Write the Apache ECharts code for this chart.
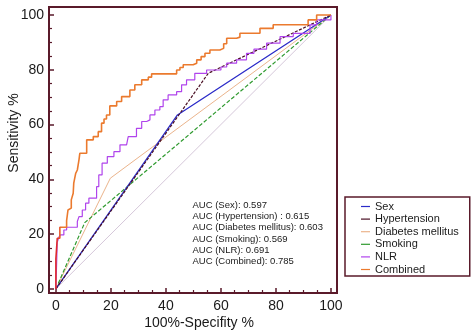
<!DOCTYPE html>
<html>
<head>
<meta charset="utf-8">
<script src="https://cdn.jsdelivr.net/npm/echarts@6/dist/echarts.min.js"></script>
<style>
html,body{margin:0;padding:0;background:#fff;}
#chart{width:474px;height:332px;}
</style>
</head>
<body>
<div id="chart"></div>
<script>
// ---- data ----
var majorTicks = [0, 20, 40, 60, 80, 100];
var minorTicks = [5,10,15,25,30,35,45,50,55,65,70,75,85,90,95];
var legendNames = ['Sex', 'Hypertension', 'Diabetes mellitus', 'Smoking', 'NLR', 'Combined'];
var aucLabels = [
  'AUC (Sex): 0.597',
  'AUC (Hypertension) : 0.615',
  'AUC (Diabetes mellitus): 0.603',
  'AUC (Smoking): 0.569',
  'AUC (NLR): 0.691',
  'AUC (Combined): 0.785'
];
var refLine = [[0,0],[100,100]];
var sexRoc = [[0,0],[44.2,63.5],[100,100]];
var hyperRoc = [[0,0],[55.4,78.7],[100,100]];
var diabRoc = [[0,0],[19.8,40.4],[100,100]];
var smokeRoc = [[0,0],[10.5,24.2],[100,100]];
var nlrRoc = [[0,0],[0.5,17],[1.1,18.9],[1.7,19.7],[2.9,21.5],[3.9,22.5],[7.8,24.6],[8.4,26.4],[9.6,28.8],
  [10.8,31.3],[12,33.1],[14.8,37.3],[15.6,41.6],[16.8,45.9],[18.7,48.3],[21.1,50.1],[23.3,52.6],[25.7,53.2],
  [26.3,55.6],[29.3,58.6],[31.2,61.1],[33,61.7],[34.2,63.5],[36,65.3],[37.8,66.5],[39,69],[40.8,70.8],
  [43.9,72],[45.7,74.5],[47.5,76.3],[50.5,78.7],[54.8,79.9],[60,81],[62.1,82.4],[65.7,83.6],[69.3,86],
  [72,87.5],[76.6,89.7],[81.5,92.1],[86.3,93.3],[92.4,96.4],[94.8,98.2],[100,100]];
var combRoc = [[0,0],[0,11],[0.5,18.5],[1.45,22.5],[3.9,24.9],[4.4,28.8],[5.1,29.5],[5.6,32.5],[6.3,34.9],
  [6.5,38.6],[7.2,42.2],[7.8,43.4],[8.4,47.1],[8.7,49.5],[11.2,54.4],[13.6,55.6],[15.4,57.4],[16.6,60.5],
  [17.5,62],[18.4,63.5],[19.6,66.8],[22.1,68.4],[23.9,70.2],[26.9,72.6],[28.7,74.5],[31.2,76.3],[33.6,77.3],
  [34.8,78.5],[43.9,79.9],[45.1,80.8],[46.3,81.8],[49.9,82.4],[51.2,83.6],[52.8,84.8],[54.2,86],[56,87.2],
  [59.6,87.8],[61,89.5],[62.1,91.5],[65.7,91.9],[66.9,93.3],[74.2,95.1],[79,96.4],[91.7,98.2],[94.8,100],[100,100]];

// ---- style ----
var FRAME = '#5a1a2a';
var FONT = '"Liberation Sans", Arial, Helvetica, sans-serif';
var TXT = '#1a1a1a';
var ORANGE = '#eb7a2e';

var chart = echarts.init(document.getElementById('chart'), null, {renderer: 'canvas'});

function lineSeries(name, data, color, width, type, z, extra) {
  var s = {
    name: name, type: 'line', data: data, xAxisIndex: 0, yAxisIndex: 0,
    symbol: 'none', showSymbol: false, silent: true, z: z,
    lineStyle: {color: color, width: width, type: type || 'solid'},
    itemStyle: {color: color}
  };
  if (extra) for (var k in extra) s[k] = extra[k];
  return s;
}

var combSeries = lineSeries('Combined', combRoc, ORANGE, 1.6, 'solid', 7, {step: 'end'});
combSeries.lineStyle.color = new echarts.graphic.LinearGradient(0, 0, 1, 0, [
  {offset: 0, color: '#e02a2a'}, {offset: 0.012, color: '#e02a2a'},
  {offset: 0.03, color: ORANGE}, {offset: 1, color: ORANGE}
]);

var option = {
  animation: false,
  backgroundColor: '#ffffff',
  grid: {
    left: 49, top: 7, right: 137, bottom: 39,
    show: true, borderColor: FRAME, borderWidth: 2,
    outerBoundsMode: 'none'
  },
  xAxis: [{
    type: 'value', min: -2.5, max: 102.2, position: 'bottom',
    axisLine: {show: true, onZero: false, lineStyle: {color: FRAME, width: 2}},
    axisTick: {show: true, inside: true, length: 5, customValues: majorTicks, lineStyle: {color: FRAME, width: 1.5}},
    axisLabel: {show: true, customValues: majorTicks, margin: 6, fontSize: 14, color: TXT, fontFamily: FONT},
    splitLine: {show: false}
  }, {
    type: 'value', min: -2.5, max: 102.2, position: 'bottom',
    axisLine: {show: false, onZero: false},
    axisTick: {show: true, inside: true, length: 3, customValues: minorTicks, lineStyle: {color: FRAME, width: 1.2}},
    axisLabel: {show: false},
    splitLine: {show: false}
  }],
  yAxis: [{
    type: 'value', min: -1.5, max: 102.9, position: 'left',
    axisLine: {show: true, onZero: false, lineStyle: {color: FRAME, width: 2}},
    axisTick: {show: true, inside: true, length: 5, customValues: majorTicks, lineStyle: {color: FRAME, width: 1.5}},
    axisLabel: {show: true, customValues: majorTicks, margin: 5, fontSize: 14, color: TXT, fontFamily: FONT},
    splitLine: {show: false}
  }, {
    type: 'value', min: -1.5, max: 102.9, position: 'left',
    axisLine: {show: false, onZero: false},
    axisTick: {show: true, inside: true, length: 3, customValues: minorTicks, lineStyle: {color: FRAME, width: 1.2}},
    axisLabel: {show: false},
    splitLine: {show: false}
  }],
  legend: {
    orient: 'vertical', left: 345, top: 197,
    padding: [4, 11, 1, 16],
    icon: 'rect',
    itemWidth: 9, itemHeight: 1.2, itemGap: 1.6,
    borderColor: FRAME, borderWidth: 1.5,
    textStyle: {fontSize: 11, color: TXT, fontFamily: FONT},
    data: legendNames.map(function (n) {
      return n === 'Combined' ? {name: n, itemStyle: {color: ORANGE}} : n;
    })
  },
  graphic: [],
  series: [
    lineSeries('Reference', refLine, '#d6c8da', 1, 'solid', 1),
    lineSeries('Diabetes mellitus', diabRoc, '#ebb48c', 1, 'solid', 2),
    lineSeries('Smoking', smokeRoc, '#2f9a2f', 1.2, [4, 2], 3),
    lineSeries('Sex', sexRoc, '#2b2bc8', 1.3, 'solid', 4),
    lineSeries('Hypertension', hyperRoc, '#4a1024', 1.2, [3, 1.5], 5),
    lineSeries('NLR', nlrRoc, '#b044ec', 1.2, 'solid', 6, {step: 'end'}),
    combSeries
  ]
};

// axis titles and AUC annotation
option.graphic.push({
  type: 'text', x: 199, y: 323, silent: true,
  style: {text: '100%-Specifity %', x: 0, y: 0, align: 'center', verticalAlign: 'middle',
    font: '14px ' + FONT, fill: TXT}
});
option.graphic.push({
  type: 'text', x: 14, y: 133, rotation: Math.PI / 2, silent: true,
  style: {text: 'Sensitivity %', x: 0, y: 0, align: 'center', verticalAlign: 'middle',
    font: '14px ' + FONT, fill: TXT}
});
aucLabels.forEach(function (t, i) {
  option.graphic.push({
    type: 'text', x: 192.5, y: 205 + i * 11.3, silent: true,
    style: {text: t, x: 0, y: 0, align: 'left', verticalAlign: 'middle',
      font: '9.5px ' + FONT, fill: TXT}
  });
});

chart.setOption(option);
</script>
</body>
</html>
